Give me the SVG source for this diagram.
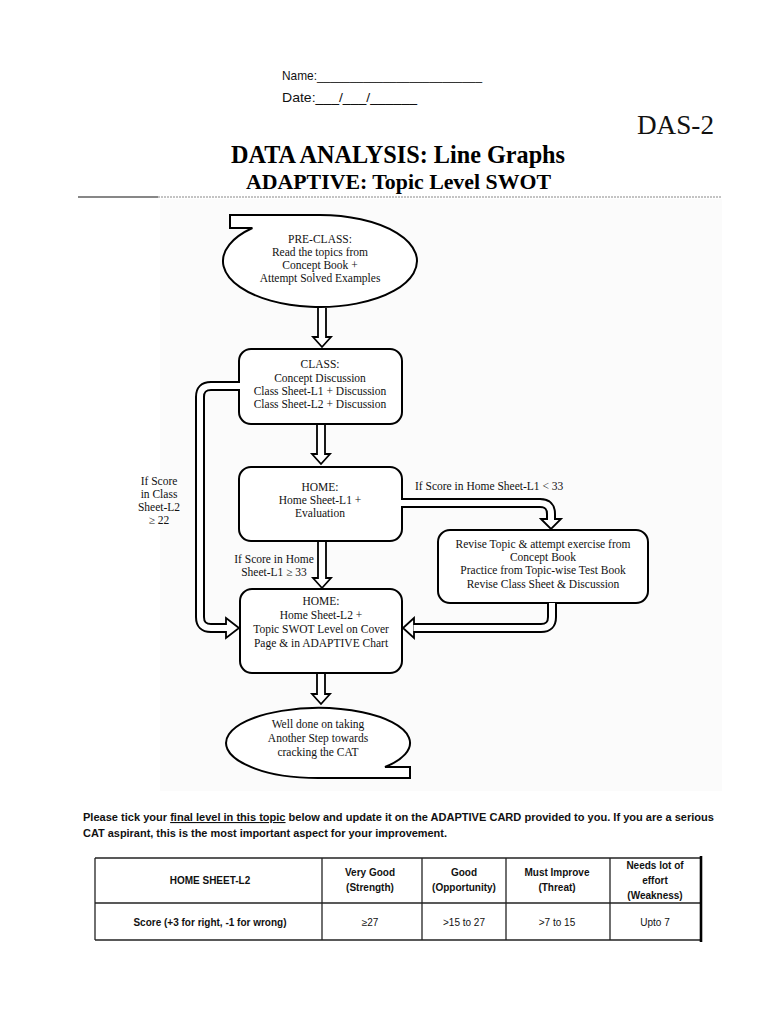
<svg xmlns="http://www.w3.org/2000/svg" width="768" height="1024" viewBox="0 0 768 1024">
<style>
.hd{font-family:"Liberation Sans",Arial,sans-serif;font-size:13px;fill:#111}
.ttl{font-family:"Liberation Serif","Times New Roman",serif;font-weight:bold;fill:#000}
.t{font-family:"Liberation Serif","Times New Roman",serif;font-size:11.5px;fill:#111;text-anchor:middle}
.tl{font-family:"Liberation Serif","Times New Roman",serif;font-size:11.5px;fill:#111}
.box{fill:#fff;stroke:#000;stroke-width:2}
.arr{fill:#fff;stroke:#000;stroke-width:1.8;stroke-linejoin:miter}
.sh-o{fill:none;stroke:#000;stroke-width:10}
.sh-i{fill:none;stroke:#fff;stroke-width:6}
.p{font-family:"Liberation Sans",Arial,sans-serif;font-size:11px;font-weight:bold;fill:#111}
.tb{font-family:"Liberation Sans",Arial,sans-serif;font-size:10px;font-weight:bold;fill:#111;text-anchor:middle}
.tn{font-family:"Liberation Sans",Arial,sans-serif;font-size:10px;fill:#111;text-anchor:middle}
.grid{stroke:#222;stroke-width:1.3}
</style>
<rect width="768" height="1024" fill="#fff"/>

<!-- header -->
<text class="hd" x="282" y="80" textLength="200" lengthAdjust="spacingAndGlyphs">Name:_________________________</text>
<text class="hd" x="282" y="102" textLength="135" lengthAdjust="spacingAndGlyphs">Date:___/___/______</text>
<text x="637" y="134" font-family="Liberation Serif, serif" font-size="27" fill="#111" textLength="77" lengthAdjust="spacingAndGlyphs">DAS-2</text>
<text class="ttl" x="231" y="163" font-size="25" textLength="334" lengthAdjust="spacingAndGlyphs">DATA ANALYSIS: Line Graphs</text>
<text class="ttl" x="246" y="189" font-size="22" textLength="305" lengthAdjust="spacingAndGlyphs">ADAPTIVE: Topic Level SWOT</text>
<line x1="78" y1="197" x2="158" y2="197" stroke="#111" stroke-width="1.2"/>
<line x1="158" y1="197" x2="722" y2="197" stroke="#888" stroke-width="1" stroke-dasharray="2 1"/>

<!-- flowchart backdrop -->
<rect x="160" y="199" width="562" height="592" fill="#fbfbfb"/>

<!-- nodes -->
<g id="preclass">
<path class="box" d="M320,215 A97,46 0 1,1 252.4,228 L230,228 L230,215 Z"/>
<text class="t" x="320" y="243">PRE-CLASS:</text>
<text class="t" x="320" y="256">Read the topics from</text>
<text class="t" x="320" y="269">Concept Book +</text>
<text class="t" x="320" y="282">Attempt Solved Examples</text>
</g>
<g id="class">
<rect class="box" x="239" y="349" width="163" height="75" rx="12"/>
<text class="t" x="320" y="368">CLASS:</text>
<text class="t" x="320" y="382">Concept Discussion</text>
<text class="t" x="320" y="395">Class Sheet-L1 + Discussion</text>
<text class="t" x="320" y="408">Class Sheet-L2 + Discussion</text>
</g>
<g id="home1">
<rect class="box" x="239" y="467" width="163" height="74" rx="12"/>
<text class="t" x="320" y="491">HOME:</text>
<text class="t" x="320" y="504">Home Sheet-L1 +</text>
<text class="t" x="320" y="517">Evaluation</text>
</g>
<g id="revise">
<rect class="box" x="438" y="530" width="210" height="73" rx="12"/>
<text class="t" x="543" y="548">Revise Topic &amp; attempt exercise from</text>
<text class="t" x="543" y="561">Concept Book</text>
<text class="t" x="543" y="574">Practice from Topic-wise Test Book</text>
<text class="t" x="543" y="588">Revise Class Sheet &amp; Discussion</text>
</g>
<g id="home2">
<rect class="box" x="240" y="589" width="162" height="84" rx="12"/>
<text class="t" x="321" y="605">HOME:</text>
<text class="t" x="321" y="619">Home Sheet-L2 +</text>
<text class="t" x="321" y="633">Topic SWOT Level on Cover</text>
<text class="t" x="321" y="647">Page &amp; in ADAPTIVE Chart</text>
</g>
<g id="end">
<path class="box" d="M318,778 A92,35 0 1,1 385,767 L410,767 L410,778 Z"/>
<text class="t" x="318" y="728">Well done on taking</text>
<text class="t" x="318" y="742">Another Step towards</text>
<text class="t" x="318" y="756">cracking the CAT</text>
</g>

<!-- connectors -->
<g id="connectors">
<path class="arr" d="M318,308 V337 H313 L322,347 L331,337 H326 V308"/>
<path class="arr" d="M317,425 V454 H312 L321,464 L330,454 H325 V425"/>
<path class="arr" d="M318,542 V578 H313 L322,588 L331,578 H326 V542"/>
<path class="arr" d="M317,674 V694 H312 L321,704 L330,694 H325 V674"/>

<!-- left loop -->
<path class="sh-o" d="M238,386 H211 Q200,386 200,397 V617 Q200,628 211,628 H228"/>
<path class="arr" d="M226,618 L239,628 L226,638 Z"/>
<path class="sh-i" d="M240,386 H211 Q200,386 200,397 V617 Q200,628 211,628 H228.5"/>

<!-- right branch to revise -->
<path class="sh-o" d="M401,503 H540 Q551,503 551,514 V520"/>
<path class="arr" d="M541,519 L551,529 L561,519 Z"/>
<path class="sh-i" d="M401,503 H540 Q551,503 551,514 V520.5"/>

<!-- revise back to home2 -->
<path class="sh-o" d="M552,604 V617 Q552,628 541,628 H413"/>
<path class="arr" d="M414,618 L403,628 L414,638 Z"/>
<path class="sh-i" d="M552,603 V617 Q552,628 541,628 H413.5"/>
</g>

<!-- connector labels -->
<text class="t" x="159" y="485">If Score</text>
<text class="t" x="159" y="498">in Class</text>
<text class="t" x="159" y="511">Sheet-L2</text>
<text class="t" x="159" y="524">≥ 22</text>
<text class="tl" x="415" y="490">If Score in Home Sheet-L1 &lt; 33</text>
<text class="t" x="274" y="563">If Score in Home</text>
<text class="t" x="274" y="576">Sheet-L1 ≥ 33</text>

<!-- instructions -->
<text class="p" x="83" y="821" textLength="631" lengthAdjust="spacingAndGlyphs">Please tick your <tspan text-decoration="underline">final level in this topic</tspan> below and update it on the ADAPTIVE CARD provided to you. If you are a serious</text>
<text class="p" x="83" y="837" textLength="364" lengthAdjust="spacingAndGlyphs">CAT aspirant, this is the most important aspect for your improvement.</text>

<!-- table -->
<g id="table">
<line class="grid" x1="95" y1="858" x2="701" y2="858"/>
<line class="grid" x1="95" y1="903" x2="701" y2="903"/>
<line class="grid" x1="95" y1="940" x2="701" y2="940"/>
<line class="grid" x1="95" y1="858" x2="95" y2="940"/>
<line class="grid" x1="322" y1="858" x2="322" y2="940"/>
<line class="grid" x1="422" y1="858" x2="422" y2="940"/>
<line class="grid" x1="506" y1="858" x2="506" y2="940"/>
<line class="grid" x1="610" y1="858" x2="610" y2="940"/>
<line x1="701" y1="856" x2="701" y2="942" stroke="#000" stroke-width="2.6"/>
<text class="tb" x="210" y="884">HOME SHEET-L2</text>
<text class="tb" x="370" y="876">Very Good</text>
<text class="tb" x="370" y="891">(Strength)</text>
<text class="tb" x="464" y="876">Good</text>
<text class="tb" x="464" y="891">(Opportunity)</text>
<text class="tb" x="557" y="876">Must Improve</text>
<text class="tb" x="557" y="891">(Threat)</text>
<text class="tb" x="655" y="869">Needs lot of</text>
<text class="tb" x="655" y="884">effort</text>
<text class="tb" x="655" y="899">(Weakness)</text>
<text class="tb" x="210" y="926">Score (+3 for right, -1 for wrong)</text>
<text class="tn" x="370" y="926">≥27</text>
<text class="tn" x="464" y="926">&gt;15 to 27</text>
<text class="tn" x="557" y="926">&gt;7 to 15</text>
<text class="tn" x="655" y="926">Upto 7</text>
</g>
</svg>
